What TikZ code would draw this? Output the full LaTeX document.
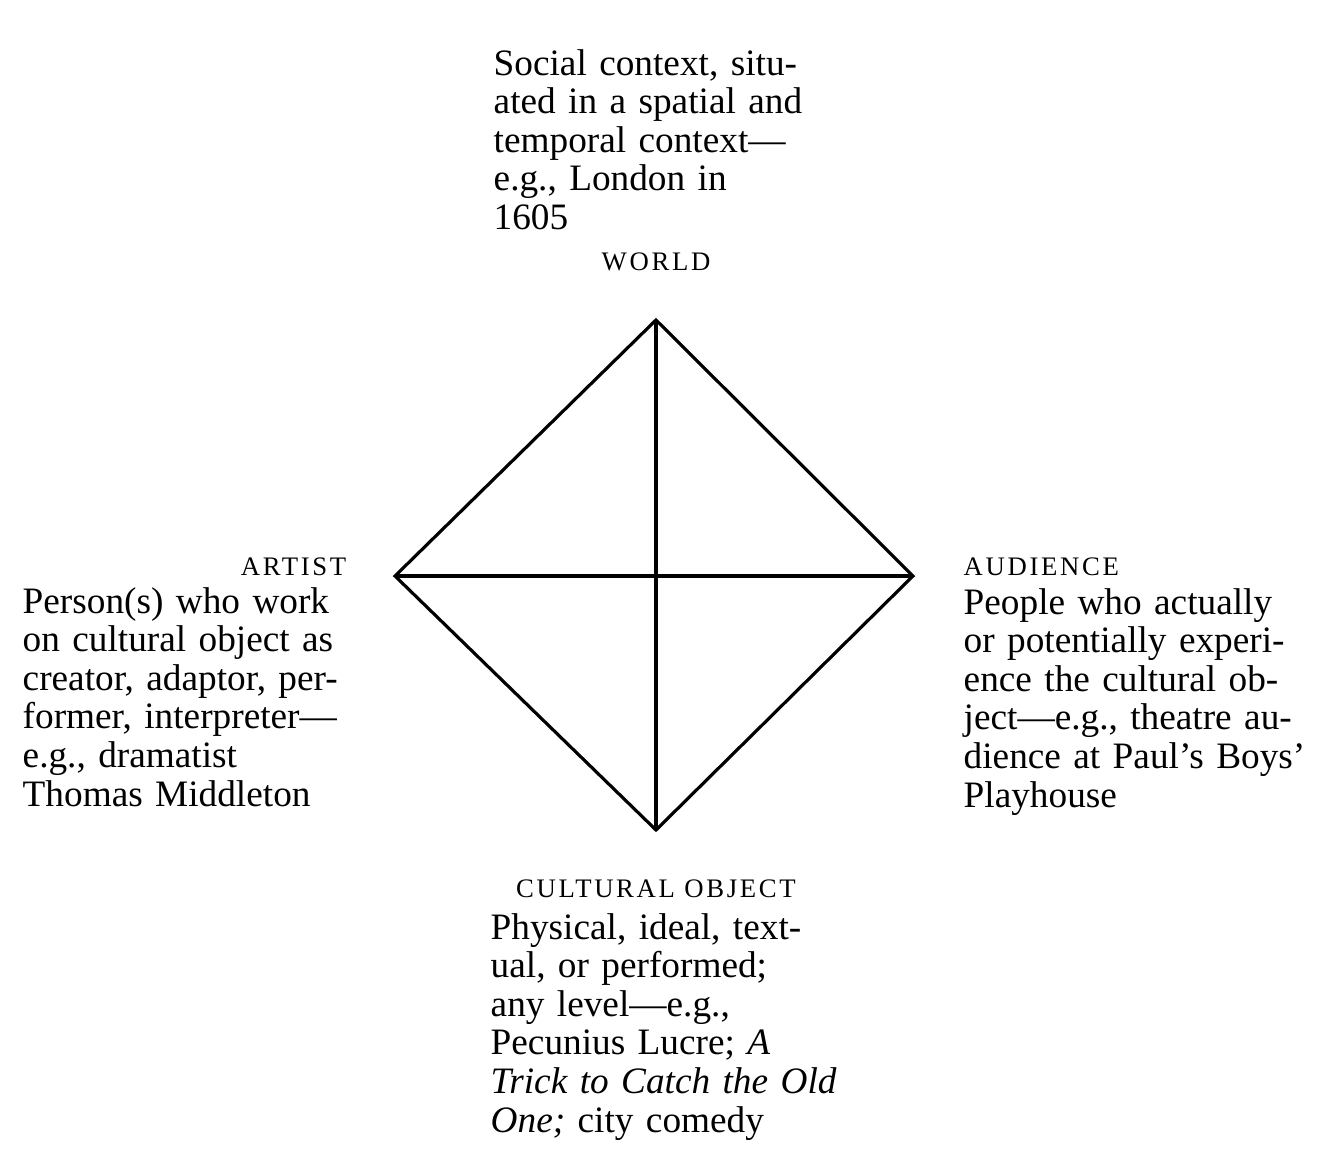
\documentclass[tikz,border=0pt]{standalone}
\usepackage{fontspec}
\setmainfont{Liberation Serif}
\usepackage{tikz}
\newcommand{\capsfont}{\fontsize{7.6pt}{9pt}\selectfont\addfontfeature{LetterSpace=10}}
\newcommand{\blurbfont}{\fontsize{10.6pt}{10.98pt}\selectfont}

\begin{document}
\begin{tikzpicture}[x=0.01cm, y=-0.01cm,
  edge/.style = {line width=0.9pt, line join=miter},
  capsname/.style = {inner sep=0pt, font=\capsfont},
  blurb/.style = {inner sep=0pt, anchor=base west, align=left, font=\blurbfont}]
\useasboundingbox (0,0) rectangle (1320,1157);
% corners of the square
\coordinate (world) at (656,320);
\coordinate (artist) at (395,576);
\coordinate (audience) at (913,576);
\coordinate (object) at (656,830);
\draw[edge] (world) -- (audience) -- (object) -- (artist) -- cycle;
\draw[edge] (world) -- (object);
\draw[edge] (artist) -- (audience);
% names
\node[capsname, anchor=base] (worldname) at (656,270) {WORLD};
\node[capsname, anchor=base east] (artistname) at (347,575) {ARTIST};
\node[capsname, anchor=base west] (audiencename) at (963,575) {AUDIENCE};
\node[capsname, anchor=base] (objectname) at (656,897) {CULTURAL OBJECT};
% texts
\node[blurb, text width=9cm] (worldtext) at (493,75) {Social context, situ-\\ated in a spatial and\\temporal context---\\e.g., London in\\1605};
\node[blurb, text width=9cm] (artisttext) at (22,613) {Person(s) who work\\on cultural object as\\creator, adaptor, per-\\former, interpreter---\\e.g., dramatist\\Thomas Middleton};
\node[blurb, text width=9cm] (audiencetext) at (963,614) {People who actually\\or potentially experi-\\ence the cultural ob-\\ject---e.g., theatre au-\\dience at Paul's Boys'\\Playhouse};
\node[blurb, text width=9cm] (objecttext) at (490,939) {Physical, ideal, text-\\ual, or performed;\\any level---e.g.,\\Pecunius Lucre; \textit{A}\\\textit{Trick to Catch the Old}\\\textit{One;} city comedy};
\end{tikzpicture}
\end{document}
